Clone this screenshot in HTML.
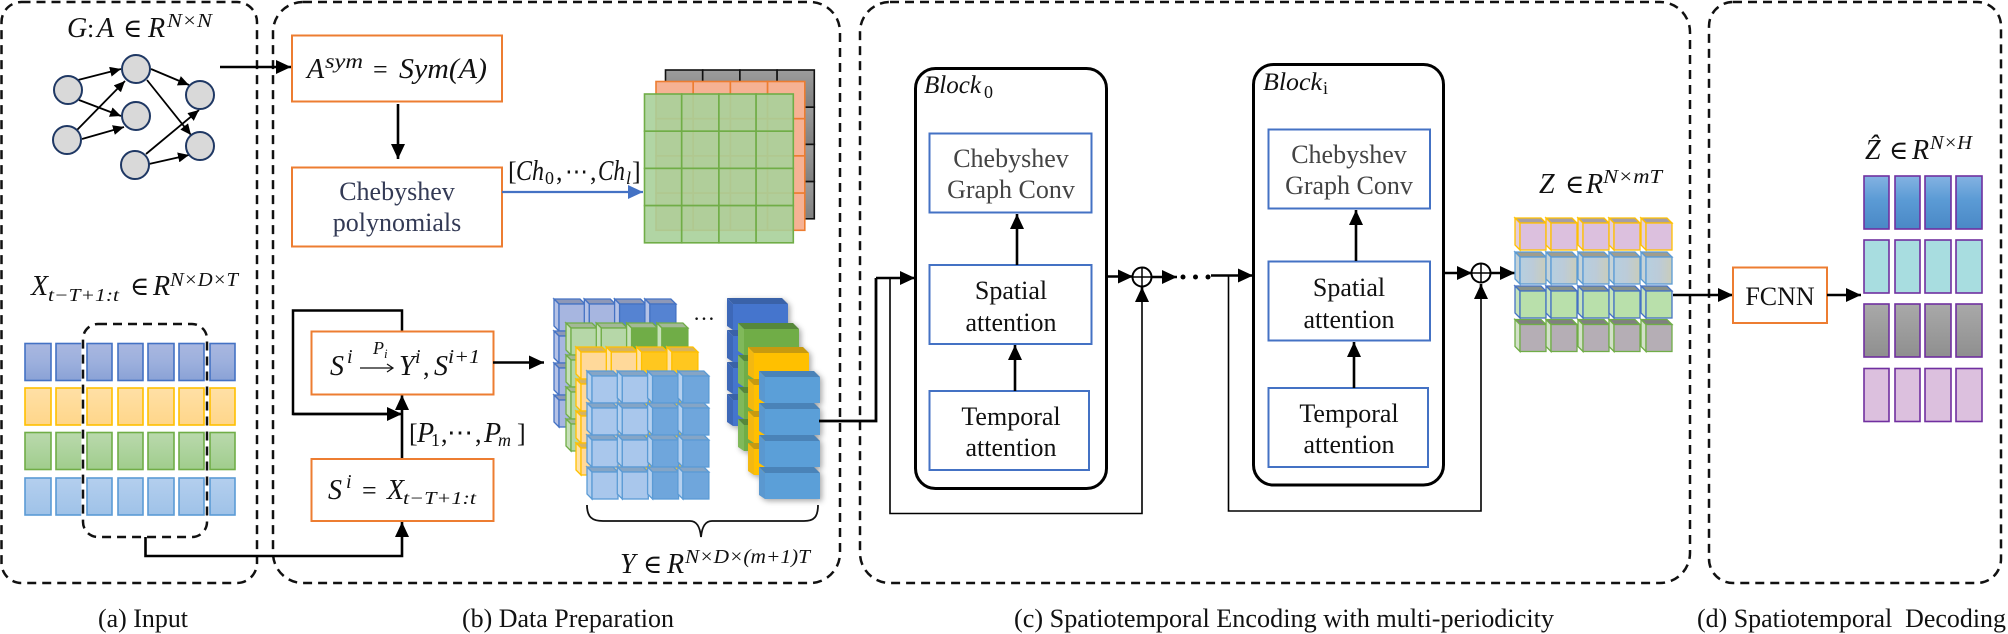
<!DOCTYPE html>
<html><head><meta charset="utf-8"><style>
html,body{margin:0;padding:0;background:#fff}
svg{display:block}
text{font-family:"Liberation Serif","DejaVu Serif",serif;fill:#111;font-size:26px}
.m{font-style:italic;font-size:28px}
.s{font-size:20px}
.ss{font-size:18px}
.c{text-anchor:middle}
.d{fill:none;stroke:#111;stroke-width:2.5;stroke-dasharray:9 6}
.o{fill:#fff;stroke:#ed7d31;stroke-width:2}
.b{fill:#fff;stroke:#4472c4;stroke-width:2}
.l{fill:none;stroke:#000;stroke-width:2.2}
.k{fill:none;stroke:#000;stroke-width:2.6;marker-end:url(#a)}
.t{fill:none;stroke:#000;stroke-width:2;marker-end:url(#a)}
.e{stroke:#000;stroke-width:1.8;marker-end:url(#e)}
.n{fill:#d9d9d9;stroke:#1f3864;stroke-width:2}
.blk{fill:#fff;stroke:#000;stroke-width:3}
.cf{fill:var(--f);stroke:var(--s);stroke-width:1.3}
.ct{fill:var(--t);stroke:var(--s);stroke-width:1.3}
.cl{fill:var(--l);stroke:var(--s);stroke-width:1.3}
</style></head><body>
<svg width="2008" height="634" viewBox="0 0 2008 634" xmlns="http://www.w3.org/2000/svg">
<defs>
<marker id="a" markerUnits="userSpaceOnUse" markerWidth="16" markerHeight="14" refX="15" refY="7" orient="auto"><path d="M0 0L15 7L0 14Z" fill="#000"/></marker>
<marker id="ab" markerUnits="userSpaceOnUse" markerWidth="16" markerHeight="14" refX="15" refY="7" orient="auto"><path d="M0 0L15 7L0 14Z" fill="#4472c4"/></marker>
<marker id="e" markerUnits="userSpaceOnUse" markerWidth="12" markerHeight="10" refX="11" refY="5" orient="auto"><path d="M0 0L11 5L0 10Z" fill="#000"/></marker>
<linearGradient id="g1" x1="0" y1="0" x2="0" y2="1"><stop offset="0" stop-color="#a9b7e0"/><stop offset=".5" stop-color="#9db0dd"/><stop offset="1" stop-color="#8aa2d6"/></linearGradient>
<linearGradient id="g2" x1="0" y1="0" x2="0" y2="1"><stop offset="0" stop-color="#ffe0a6"/><stop offset="1" stop-color="#ffd68a"/></linearGradient>
<linearGradient id="g3" x1="0" y1="0" x2="0" y2="1"><stop offset="0" stop-color="#bad9ad"/><stop offset="1" stop-color="#a0cd8d"/></linearGradient>
<linearGradient id="g4" x1="0" y1="0" x2="0" y2="1"><stop offset="0" stop-color="#b4cfee"/><stop offset="1" stop-color="#9fc2e8"/></linearGradient>
<linearGradient id="g5" x1="0" y1="0" x2="0" y2="1"><stop offset="0" stop-color="#84b2e2"/><stop offset=".45" stop-color="#5b9bd5"/><stop offset="1" stop-color="#4a88c6"/></linearGradient>
<linearGradient id="g6" x1="0" y1="0" x2="0" y2="1"><stop offset="0" stop-color="#a9a9a9"/><stop offset="1" stop-color="#8f8f8f"/></linearGradient>
<linearGradient id="gr" x1="0" y1="0" x2="0" y2="1"><stop offset="0" stop-color="#9c9c9c"/><stop offset="1" stop-color="#7f7f7f"/></linearGradient>
<linearGradient id="gz" x1="0" y1="0" x2="1" y2="0"><stop offset="0" stop-color="#b6cfe0"/><stop offset=".5" stop-color="#bccbd8"/><stop offset="1" stop-color="#c9cdbb"/></linearGradient>

<g id="r7"><rect x="25" width="26" height="37"/><rect x="56" width="26" height="37"/><rect x="87" width="25" height="37"/><rect x="118" width="25" height="37"/><rect x="148" width="26" height="37"/><rect x="179" width="25" height="37"/><rect x="210" width="25" height="37"/></g>
<g id="r4"><rect x="1864" width="25" height="53"/><rect x="1895" width="25" height="53"/><rect x="1925" width="26" height="53"/><rect x="1956" width="26" height="53"/></g>
<g id="g44"><rect x="0" y="0" width="37.2" height="37.2"/><rect x="37.2" y="0" width="37.2" height="37.2"/><rect x="74.4" y="0" width="37.2" height="37.2"/><rect x="111.6" y="0" width="37.2" height="37.2"/><rect x="0" y="37.2" width="37.2" height="37.2"/><rect x="37.2" y="37.2" width="37.2" height="37.2"/><rect x="74.4" y="37.2" width="37.2" height="37.2"/><rect x="111.6" y="37.2" width="37.2" height="37.2"/><rect x="0" y="74.4" width="37.2" height="37.2"/><rect x="37.2" y="74.4" width="37.2" height="37.2"/><rect x="74.4" y="74.4" width="37.2" height="37.2"/><rect x="111.6" y="74.4" width="37.2" height="37.2"/><rect x="0" y="111.6" width="37.2" height="37.2"/><rect x="37.2" y="111.6" width="37.2" height="37.2"/><rect x="74.4" y="111.6" width="37.2" height="37.2"/><rect x="111.6" y="111.6" width="37.2" height="37.2"/></g>

<g id="c"><polygon class="ct" points="0,0 26,0 31,5 5,5"/><polygon class="cl" points="0,0 5,5 5,32 0,27"/><rect class="cf" x="5" y="5" width="26" height="27"/></g>
<g id="L">
<g style="--f:var(--a)"><use href="#c" x="0" y="0"/><use href="#c" x="30.3" y="0"/><use href="#c" x="0" y="32"/><use href="#c" x="30.3" y="32"/><use href="#c" x="0" y="64"/><use href="#c" x="30.3" y="64"/><use href="#c" x="0" y="96"/><use href="#c" x="30.3" y="96"/></g>
<g style="--f:var(--b)"><use href="#c" x="60.6" y="0"/><use href="#c" x="90.9" y="0"/><use href="#c" x="60.6" y="32"/><use href="#c" x="90.9" y="32"/><use href="#c" x="60.6" y="64"/><use href="#c" x="90.9" y="64"/><use href="#c" x="60.6" y="96"/><use href="#c" x="90.9" y="96"/></g>
</g>
<g id="q"><polygon fill="var(--t)" points="0,0 28,0 34,6 6,6"/><polygon fill="var(--l)" points="0,0 6,6 6,32 0,28"/><rect fill="var(--f)" x="6" y="6" width="28" height="26"/></g>
<g id="S"><use href="#q" x="27" y="0"/><use href="#q" x="0" y="0"/><use href="#q" x="27" y="32"/><use href="#q" x="0" y="32"/><use href="#q" x="27" y="64"/><use href="#q" x="0" y="64"/><use href="#q" x="27" y="96"/><use href="#q" x="0" y="96"/></g>
<g id="Z"><use href="#c" x="1515"/><use href="#c" x="1546"/><use href="#c" x="1578"/><use href="#c" x="1609"/><use href="#c" x="1641"/></g>
</defs>

<!-- panels -->
<rect class="d" x="1.5" y="2" width="255.5" height="581" rx="20"/>
<rect class="d" x="273" y="2" width="567" height="581" rx="30"/>
<rect class="d" x="860" y="2" width="830" height="581" rx="30"/>
<rect class="d" x="1709" y="2" width="292" height="581" rx="24"/>

<!-- captions -->
<text x="98" y="627" textLength="90" lengthAdjust="spacingAndGlyphs">(a) Input</text>
<text x="462" y="627" textLength="212" lengthAdjust="spacingAndGlyphs">(b) Data Preparation</text>
<text x="1014" y="627" textLength="540" lengthAdjust="spacingAndGlyphs">(c) Spatiotemporal Encoding with multi-periodicity</text>
<text x="1697" y="627" textLength="309" lengthAdjust="spacingAndGlyphs" xml:space="preserve">(d) Spatiotemporal  Decoding</text>

<!-- graph -->
<text class="m" x="67" y="37">G</text><text x="87" y="37">:</text><text class="m" x="97" y="37">A</text><text x="123" y="37">∈</text><text class="m" x="148" y="37">R</text>
<text class="m s" x="167" y="27" textLength="45" lengthAdjust="spacingAndGlyphs">N×N</text>
<line class="e" x1="78" y1="80" x2="121" y2="69"/>
<line class="e" x1="79" y1="100" x2="121" y2="116"/>
<line class="e" x1="77" y1="130" x2="125" y2="81"/>
<line class="e" x1="82" y1="139" x2="124" y2="127"/>
<line class="e" x1="151" y1="69" x2="189" y2="85"/>
<line class="e" x1="147" y1="80" x2="191" y2="135"/>
<line class="e" x1="146" y1="154" x2="199" y2="110"/>
<line class="e" x1="149" y1="164" x2="189" y2="155"/>
<circle class="n" cx="68" cy="90" r="14"/><circle class="n" cx="136" cy="69" r="14"/><circle class="n" cx="200" cy="95" r="14"/><circle class="n" cx="136" cy="116" r="14"/><circle class="n" cx="67" cy="140" r="14"/><circle class="n" cx="200" cy="146" r="14"/><circle class="n" cx="135" cy="165" r="14"/>

<!-- input X -->
<text class="m" x="31" y="295">X</text>
<text class="m ss" x="48" y="301" textLength="71" lengthAdjust="spacingAndGlyphs">t−T+1:t</text>
<text x="130" y="295">∈</text><text class="m" x="153" y="295">R</text>
<text class="m s" x="170" y="286" textLength="68" lengthAdjust="spacingAndGlyphs">N×D×T</text>
<g stroke-width="1.6">
<use href="#r7" y="343.500" fill="url(#g1)" stroke="#4472c4"/>
<use href="#r7" y="388" fill="url(#g2)" stroke="#ffc000"/>
<use href="#r7" y="432.500" fill="url(#g3)" stroke="#70ad47"/>
<use href="#r7" y="478" fill="url(#g4)" stroke="#5b9bd5"/>
</g>
<rect x="83" y="324" width="124" height="213" rx="15" fill="none" stroke="#fff" stroke-width="3.5"/>
<rect class="d" x="83" y="324" width="124" height="213" rx="15"/>
<path class="k" d="M145.500 537V556H402V522"/>
<path class="k" d="M220 67H291"/>

<!-- data prep boxes -->
<rect class="o" x="292" y="35.500" width="210" height="66"/>
<text class="m" x="307" y="78">A</text><text class="m s" x="325" y="68" textLength="38" lengthAdjust="spacingAndGlyphs">sym</text>
<text x="373" y="78">=</text>
<text class="m" x="399" y="78" textLength="88" lengthAdjust="spacingAndGlyphs">Sym(A)</text>
<path class="k" d="M398 104V159"/>
<rect class="o" x="292" y="167.500" width="210" height="79"/>
<text class="c" x="397" y="200" style="fill:#333a55">Chebyshev</text>
<text class="c" x="397" y="231" style="fill:#333a55">polynomials</text>
<path d="M502 192H643" fill="none" stroke="#4472c4" stroke-width="2.2" marker-end="url(#ab)"/>
<text x="508" y="180">[</text><text class="m" x="516" y="180" textLength="28" lengthAdjust="spacingAndGlyphs">Ch</text><text class="ss" x="545" y="184">0</text><text x="556" y="180">,</text><text x="565" y="180" textLength="23" lengthAdjust="spacingAndGlyphs">⋯</text><text x="590" y="180">,</text><text class="m" x="598" y="180" textLength="27" lengthAdjust="spacingAndGlyphs">Ch</text><text class="m ss" x="626" y="184">l</text><text x="632" y="180">]</text>

<!-- matrices -->
<use href="#g44" x="665.500" y="70" fill="url(#gr)" stroke="#111" stroke-width="1.6"/>
<use href="#g44" x="656" y="81.500" fill="#f6b294" stroke="#ed7d31" stroke-width="1.6"/>
<use href="#g44" x="644.500" y="94" fill="#a9d09a" fill-opacity=".9" stroke="#70ad47" stroke-width="1.6"/>

<!-- loop -->
<path class="l" style="stroke-width:2.5" d="M402 331V310.500H293V414H400"/>
<path class="k" d="M293 414H402"/>
<path class="k" d="M402 459V395"/>
<rect class="o" x="311.500" y="331.500" width="182" height="63"/>
<rect class="o" x="311.500" y="459" width="182" height="62"/>
<text class="m" x="330" y="375">S</text><text class="m s" x="347" y="363">i</text>
<text class="m ss" x="373" y="354">P</text><text class="m" style="font-size:13px" x="384" y="358">i</text>
<path d="M360 368H392M387 364L393 368L387 372" fill="none" stroke="#111" stroke-width="1.2"/>
<text class="m" x="399" y="375">Y</text><text class="m s" x="415" y="363">i</text><text x="423" y="375">,</text><text class="m" x="434" y="375">S</text>
<text class="m s" x="448" y="363" textLength="32" lengthAdjust="spacingAndGlyphs">i+1</text>
<text class="m" x="328" y="499">S</text><text class="m s" x="346" y="488">i</text><text x="362" y="499">=</text><text class="m" x="387" y="499">X</text>
<text class="m ss" x="403" y="504" textLength="73" lengthAdjust="spacingAndGlyphs">t−T+1:t</text>
<text x="409" y="442">[</text><text class="m" x="417" y="442">P</text><text class="ss" x="431" y="446">1</text><text x="441" y="442">,</text><text x="447" y="441" textLength="26" lengthAdjust="spacingAndGlyphs">⋯</text><text x="475" y="442">,</text><text class="m" x="484" y="442">P</text><text class="m ss" x="498" y="446">m</text><text x="517" y="442">]</text>
<path class="k" d="M493 362.500H544"/>

<!-- cube stacks -->
<use href="#L" x="554" y="299" style="--s:#4472c4;--a:#a7b6e0;--b:#5583d2;--t:#8d98b8;--l:#b5c2e6"/>
<use href="#L" x="566" y="323" style="--s:#70ad47;--a:#b6d7a8;--b:#70ad47;--t:#a3b897;--l:#c6e0b8"/>
<use href="#L" x="576" y="347" style="--s:#ffc000;--a:#ffd99a;--b:#ffc71f;--t:#d6b360;--l:#ffe2a8"/>
<use href="#L" x="587" y="371" style="--s:#5b9bd5;--a:#a9c7ec;--b:#6fa6dc;--t:#85a5c6;--l:#b5d0ef"/>
<text x="693" y="320" style="font-size:22px;letter-spacing:1px">…</text>
<g style="filter:drop-shadow(2px 2px 3px rgba(0,0,0,.35))">
<use href="#S" x="727" y="298" style="--f:#4575cd;--t:#3a62a8;--l:#3d68b8"/>
<use href="#S" x="738" y="323" style="--f:#70ad47;--t:#56883a;--l:#80b95a"/>
<use href="#S" x="748" y="347" style="--f:#ffc000;--t:#c79a10;--l:#f3b811"/>
<use href="#S" x="759" y="371" style="--f:#5b9fd8;--t:#4a83b8;--l:#5a98d0"/>
</g>
<path d="M587 505C587 517 592 521 603 521H690C697 521 700 527 701 537C702 527 705 521 712 521H804C814 521 818 517 818 505" fill="none" stroke="#111" stroke-width="1.8"/>
<text class="m" x="620" y="573">Y</text><text x="643" y="573">∈</text><text class="m" x="667" y="573">R</text>
<text class="m s" x="685" y="563" textLength="125" lengthAdjust="spacingAndGlyphs">N×D×(m+1)T</text>

<!-- encoder lines -->
<path class="l" style="stroke-width:2.8" d="M819 421H876V278"/>
<path class="k" d="M876 278H915"/>
<path class="l" style="stroke-width:1.6" d="M890 278V513.500H1142V300"/>
<path class="k" d="M1142 300V287"/>

<!-- Block0 -->
<rect class="blk" x="915.500" y="68.500" width="191" height="420" rx="20"/>
<text class="m" x="924" y="93" style="font-size:25px" textLength="57" lengthAdjust="spacingAndGlyphs">Block</text><text class="ss" x="984" y="98">0</text>
<rect class="b" x="929.500" y="133.500" width="162" height="79"/>
<rect class="b" x="929.500" y="265" width="162" height="79"/>
<rect class="b" x="929.500" y="391" width="159.500" height="79"/>
<text class="c" x="1011" y="167" style="fill:#444">Chebyshev</text><text class="c" x="1011" y="198" style="fill:#444">Graph Conv</text>
<text class="c" x="1011" y="299">Spatial</text><text class="c" x="1011" y="331">attention</text>
<text class="c" x="1011" y="425">Temporal</text><text class="c" x="1011" y="456">attention</text>
<path class="k" d="M1017 265V214"/>
<path class="k" d="M1015 391V345"/>
<path class="k" d="M1106 276.500H1133"/>
<circle cx="1142" cy="277" r="9.500" fill="#fff" stroke="#000" stroke-width="2"/><path d="M1132.500 277H1151.500M1142 267.500V286.500" stroke="#000" stroke-width="1.5"/>
<path class="k" d="M1151 277H1177"/>
<circle cx="1183" cy="277" r="2.500"/><circle cx="1195.500" cy="277" r="2.500"/><circle cx="1208" cy="277" r="2.500"/>
<path class="k" d="M1211 275.500H1253"/>
<path class="l" style="stroke-width:1.6" d="M1228.500 276V511H1481V298"/>
<path class="k" d="M1481 298V284"/>

<!-- Block i -->
<rect class="blk" x="1253.500" y="64.500" width="190" height="420.500" rx="20"/>
<text class="m" x="1263" y="90" style="font-size:25px" textLength="59" lengthAdjust="spacingAndGlyphs">Block</text><text class="ss" x="1323" y="94">i</text>
<rect class="b" x="1268.500" y="129.500" width="161.500" height="79"/>
<rect class="b" x="1268.500" y="261.500" width="161.500" height="79"/>
<rect class="b" x="1268.500" y="388" width="159.500" height="79"/>
<text class="c" x="1349" y="163" style="fill:#444">Chebyshev</text><text class="c" x="1349" y="194" style="fill:#444">Graph Conv</text>
<text class="c" x="1349" y="296">Spatial</text><text class="c" x="1349" y="328">attention</text>
<text class="c" x="1349" y="422">Temporal</text><text class="c" x="1349" y="453">attention</text>
<path class="k" d="M1356 261V210"/>
<path class="k" d="M1354 388V342"/>
<path class="k" d="M1443 273H1472"/>
<circle cx="1481" cy="273" r="9.500" fill="#fff" stroke="#000" stroke-width="2"/><path d="M1471.500 273H1490.500M1481 263.500V282.500" stroke="#000" stroke-width="1.5"/>
<path class="k" d="M1490 273H1515"/>

<!-- Z cubes -->
<text class="m" x="1539" y="193">Z</text><text x="1565" y="193">∈</text><text class="m" x="1586" y="193">R</text>
<text class="m s" x="1603" y="183" textLength="59" lengthAdjust="spacingAndGlyphs">N×mT</text>
<use href="#Z" y="218" style="--s:#ffc000;--f:#dcc0de;--t:#a59ea5;--l:#e3cde0"/>
<use href="#Z" y="252" style="--s:#5b9bd5;--f:url(#gz);--t:#a09d8e;--l:#c5d3d8"/>
<use href="#Z" y="286" style="--s:#4472c4;--f:#b9e0ab;--t:#88928a;--l:#c5e4bb"/>
<use href="#Z" y="319.500" style="--s:#70ad47;--f:#b5aeb5;--t:#808080;--l:#d2e0c8"/>

<!-- decoder -->
<path class="k" d="M1673 295H1733"/>
<rect class="o" x="1733" y="267.500" width="94" height="55.500"/>
<text class="c" x="1780" y="305">FCNN</text>
<path class="k" d="M1827 295H1861"/>
<text class="m" x="1865" y="159">Ẑ</text><text x="1889" y="159">∈</text><text class="m" x="1912" y="159">R</text>
<text class="m s" x="1930" y="149" textLength="42" lengthAdjust="spacingAndGlyphs">N×H</text>
<g stroke="#7030a0" stroke-width="1.6">
<use href="#r4" y="176" fill="url(#g5)"/>
<use href="#r4" y="240" fill="#a8dde0"/>
<use href="#r4" y="304" fill="url(#g6)"/>
<use href="#r4" y="368.500" fill="#dcc0de"/>
</g>
</svg>
</body></html>
